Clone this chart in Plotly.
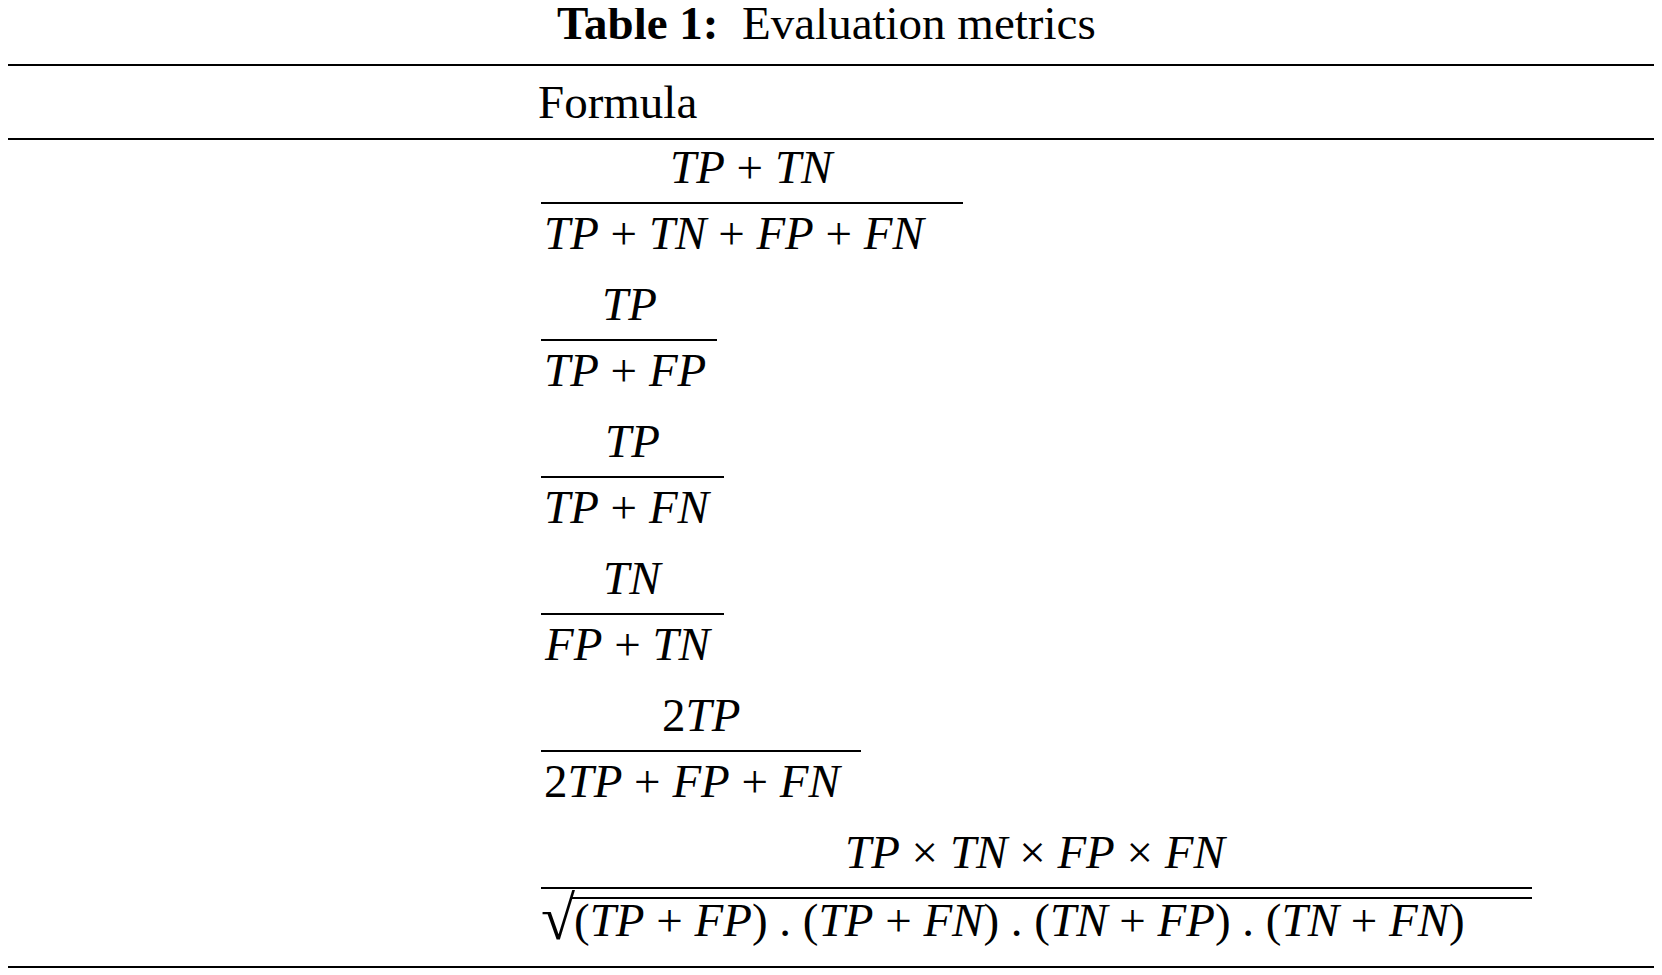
import plotly.graph_objects as go

title_bold = "Table 1:"
title_text = "Evaluation metrics"
headers = ["Assessment", "Formula"]
assessments = ["Accuracy", "Precision", "Sensitivity", "Specificity", "Dice coefficient", "MCC"]
numerators = ["<i>TP</i> + <i>TN</i>", "<i>TP</i>", "<i>TP</i>", "<i>TN</i>", "2<i>TP</i>",
              "<i>TP</i> × <i>TN</i> × <i>FP</i> × <i>FN</i>"]
denominators = ["<i>TP</i> + <i>TN</i> + <i>FP</i> + <i>FN</i>", "<i>TP</i> + <i>FP</i>",
                "<i>TP</i> + <i>FN</i>", "<i>FP</i> + <i>TN</i>", "2<i>TP</i> + <i>FP</i> + <i>FN</i>",
                "(<i>TP</i> + <i>FP</i>) . (<i>TP</i> + <i>FN</i>) . (<i>TN</i> + <i>FP</i>) . (<i>TN</i> + <i>FN</i>)"]

# layout (pixel) settings; page body adds 8px offset
W, H = 1662, 975
OX, OY = -8, -9
FONT = "Liberation Serif, Times New Roman, serif"
FS = 47
bar_x0 = 541
bar_x1 = [963, 717, 724, 724, 861, 1532]
row_y0, row_dy = 204, 137

fig = go.Figure()
ann = []
shapes = []
def txt(x, y, s, anchor="left", size=FS):
    ann.append(dict(x=x + OX, y=y + OY, text=s, showarrow=False, xanchor=anchor, yanchor="middle",
                    font=dict(family=FONT, size=size, color="black")))
def line(x0, y0, x1, y1, w=2):
    shapes.append(dict(type="line", x0=x0 + OX, y0=y0 + OY, x1=x1 + OX, y1=y1 + OY,
                       line=dict(color="black", width=w)))

txt(W/2 - 5, 24, f"<b>{title_bold}</b>  {title_text}", "center")
line(5, 66, 1657, 66)
txt(6, 103, headers[0])
txt(536, 103, headers[1])
line(5, 140, 1657, 140)
for i, name in enumerate(assessments):
    yb = row_y0 + i * row_dy
    txt(6, yb - 3, name)
    x1 = bar_x1[i]
    line(bar_x0, yb, x1, yb)
    cx = (bar_x0 + x1) / 2
    txt(cx, yb - 36, numerators[i], "center")
    if i < len(assessments) - 1:
        txt(bar_x0 + 1, yb + 30, denominators[i], "left")
    else:
        txt(539, yb + 30, "√", "left", 62)
        line(571, yb + 10, x1, yb + 10)
        txt(572, yb + 32, denominators[i], "left")
line(5, 968, 1657, 968)

fig.update_layout(width=W, height=H, margin=dict(l=0, r=0, t=0, b=0),
                  paper_bgcolor="white", plot_bgcolor="white",
                  xaxis=dict(range=[0, W], visible=False, fixedrange=True),
                  yaxis=dict(range=[H, 0], visible=False, fixedrange=True),
                  annotations=ann, shapes=shapes, showlegend=False)
fig.write_html("out.html")
